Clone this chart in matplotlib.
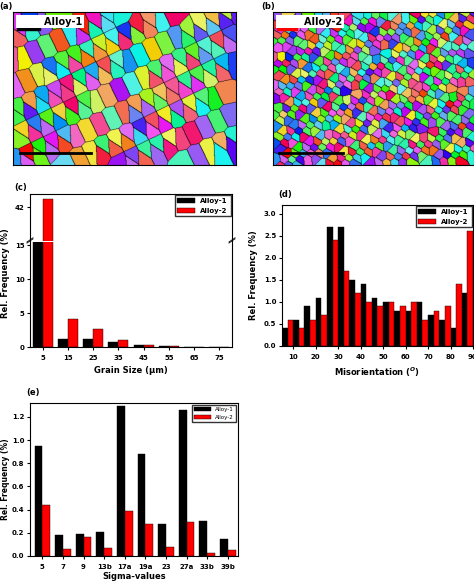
import numpy as np
import matplotlib.pyplot as plt
from matplotlib.colors import hsv_to_rgb

# (c) grain size distribution
grain_sizes = [5, 15, 25, 35, 45, 55, 65, 75]
grain_alloy1 = [30.0, 1.2, 1.2, 0.7, 0.3, 0.15, 0.05, 0.03]
grain_alloy2 = [42.6, 4.2, 2.7, 1.0, 0.35, 0.1, 0.02, 0.01]

# (d) misorientation distribution, 5 degree bins
mis_bins = [7.5, 12.5, 17.5, 22.5, 27.5, 32.5, 37.5, 42.5, 47.5, 52.5,
            57.5, 62.5, 67.5, 72.5, 77.5, 82.5, 87.5]
mis_alloy1 = [0.4, 0.6, 0.9, 1.1, 2.7, 2.7, 1.5, 1.4, 1.1, 1.0, 0.8, 0.8, 1.0, 0.7, 0.6, 0.4, 1.2]
mis_alloy2 = [0.6, 0.4, 0.6, 0.7, 2.4, 1.7, 1.2, 1.0, 0.9, 1.0, 0.9, 1.0, 0.6, 0.8, 0.9, 1.4, 2.6]

# (e) CSL boundaries
sigma_labels = ['5', '7', '9', '13b', '17a', '19a', '23', '27a', '33b', '39b']
sigma_alloy1 = [0.95, 0.18, 0.19, 0.21, 1.29, 0.88, 0.28, 1.26, 0.30, 0.15]
sigma_alloy2 = [0.44, 0.06, 0.16, 0.065, 0.39, 0.28, 0.075, 0.29, 0.03, 0.05]

plt.rcParams['font.family'] = 'DejaVu Sans'
plt.rcParams['font.weight'] = 'bold'
plt.rcParams['font.size'] = 5
plt.rcParams['axes.labelweight'] = 'bold'
plt.rcParams['xtick.major.size'] = 2
plt.rcParams['ytick.major.size'] = 2
plt.rcParams['ytick.major.pad'] = 2

fig = plt.figure(figsize=(4.74, 5.81), dpi=100)
W, H = 474, 581


def ax_px(x0, y0, x1, y1):
    return fig.add_axes([x0 / W, 1 - y1 / H, (x1 - x0) / W, (y1 - y0) / H])


def hashf(k, s):
    v = np.sin(k * s) * 43758.5453
    return v - np.floor(v)


def grain_map(n, w, h):
    # deterministic quasi-uniform seed points (golden ratio sequence)
    k = np.arange(n)
    px = (k * 0.6180339887) % 1 * w
    py = (k * 0.7548776662 + 0.3) % 1 * h
    yy, xx = np.mgrid[0:h, 0:w]
    d = (xx[..., None] - px) ** 2 + (yy[..., None] - py) ** 2
    lab = d.argmin(axis=2)
    hue = hashf(k + 1, 12.9898)
    sat = 0.55 + 0.45 * hashf(k + 1, 78.233)
    cols = hsv_to_rgb(np.stack([hue, sat, np.ones(n) * 0.95], axis=1))
    img = cols[lab]
    edge = np.zeros((h, w), bool)
    edge[:, 1:] |= lab[:, 1:] != lab[:, :-1]
    edge[1:, :] |= lab[1:, :] != lab[:-1, :]
    img[edge] = 0
    return img


for (x0, x1, n, name, col, letter) in [(13, 236, 180, 'Alloy-1', 'black', '(a)'),
                                       (273, 474, 550, 'Alloy-2', 'red', '(b)')]:
    ax = ax_px(x0, 12, x1, 165)
    ax.imshow(grain_map(n, (x1 - x0) * 2, 153 * 2), aspect='auto')
    ax.set_xticks([])
    ax.set_yticks([])
    ax.text(0.02, 0.97, '        ' + name, transform=ax.transAxes, va='top', fontsize=7,
            bbox=dict(facecolor='white', edgecolor='none', pad=1))
    ax.add_patch(plt.Rectangle((0.02, 0.885), 0.1, 0.075, transform=ax.transAxes, color=col))
    ax.plot([0.03, 0.35], [0.08, 0.08], transform=ax.transAxes, color='black', lw=2)
    ax.text(-0.06, 1.02, letter, transform=ax.transAxes, fontsize=6)

# (c) broken axis
w = 4
xs = np.array(grain_sizes)
axt = ax_px(30, 194, 232, 241)
axb = ax_px(30, 242, 232, 347)
for a in (axt, axb):
    a.bar(xs - w / 2, grain_alloy1, w, color='black', edgecolor='black', lw=0.3, label='Alloy-1')
    a.bar(xs + w / 2, grain_alloy2, w, color='red', edgecolor='black', lw=0.3, label='Alloy-2')
    a.set_xlim(0, 80)
axt.set_ylim(39.5, 43)
axt.set_yticks([42])
axt.set_xticks([])
axt.spines['bottom'].set_visible(False)
axb.spines['top'].set_visible(False)
axb.set_ylim(0, 15.5)
axb.set_yticks([0, 5, 10, 15])
axb.set_xticks(grain_sizes)
axb.set_xlabel('Grain Size (\u03bcm)', fontsize=6)
axb.set_ylabel('Rel. Frequency (%)', fontsize=6)
axb.yaxis.set_label_coords(-0.1, 0.7)
for xx in (0, 1):
    axb.plot([xx - 0.015, xx + 0.015], [0.99, 1.03], transform=axb.transAxes,
             color='black', lw=0.6, clip_on=False)
    axb.plot([xx - 0.015, xx + 0.015], [1.0, 1.04], transform=axb.transAxes,
             color='black', lw=0.6, clip_on=False)
axt.legend(loc='upper right', fontsize=5, frameon=True, fancybox=False, edgecolor='black',
           handlelength=2.5, borderaxespad=0.2)
axt.text(-0.08, 1.08, '(c)', transform=axt.transAxes, fontsize=6)

# (d)
axd = ax_px(282, 205, 473, 346)
mb = np.array(mis_bins)
axd.bar(mb - 1.25, mis_alloy1, 2.5, color='black', edgecolor='black', lw=0.3, label='Alloy-1')
axd.bar(mb + 1.25, mis_alloy2, 2.5, color='red', edgecolor='black', lw=0.3, label='Alloy-2')
axd.set_xlim(5, 90)
axd.set_ylim(0, 3.2)
axd.set_xticks(range(10, 91, 10))
axd.set_yticks(np.arange(0, 3.01, 0.5))
axd.set_xlabel('Misorientation ($^{O}$)', fontsize=6)
axd.set_ylabel('Rel. Frequency (%)', fontsize=6)
axd.legend(loc='upper right', fontsize=5, fancybox=False, edgecolor='black',
           handlelength=2.5, borderaxespad=0.2)
axd.text(-0.02, 1.06, '(d)', transform=axd.transAxes, fontsize=6)

# (e)
axe = ax_px(30, 403, 238, 556)
xe = np.arange(len(sigma_labels))
axe.bar(xe - 0.19, sigma_alloy1, 0.38, color='black', edgecolor='black', lw=0.3, label='Alloy-1')
axe.bar(xe + 0.19, sigma_alloy2, 0.38, color='red', edgecolor='black', lw=0.3, label='Alloy-2')
axe.set_xlim(-0.6, len(sigma_labels) - 0.5)
axe.set_ylim(0, 1.32)
axe.set_xticks(xe)
axe.set_xticklabels(sigma_labels)
axe.set_yticks(np.arange(0, 1.21, 0.2))
axe.set_xlabel('Sigma-values', fontsize=6, labelpad=2)
axe.set_ylabel('Rel. Frequency (%)', fontsize=5.5, labelpad=1)
leg = axe.legend(loc='upper right', fontsize=4, fancybox=False, edgecolor='black',
                 handlelength=3, borderaxespad=0.3)
for t in leg.get_texts():
    t.set_fontweight('normal')
axe.text(-0.02, 1.05, '(e)', transform=axe.transAxes, fontsize=6)

fig.savefig('out.png', dpi=100)
